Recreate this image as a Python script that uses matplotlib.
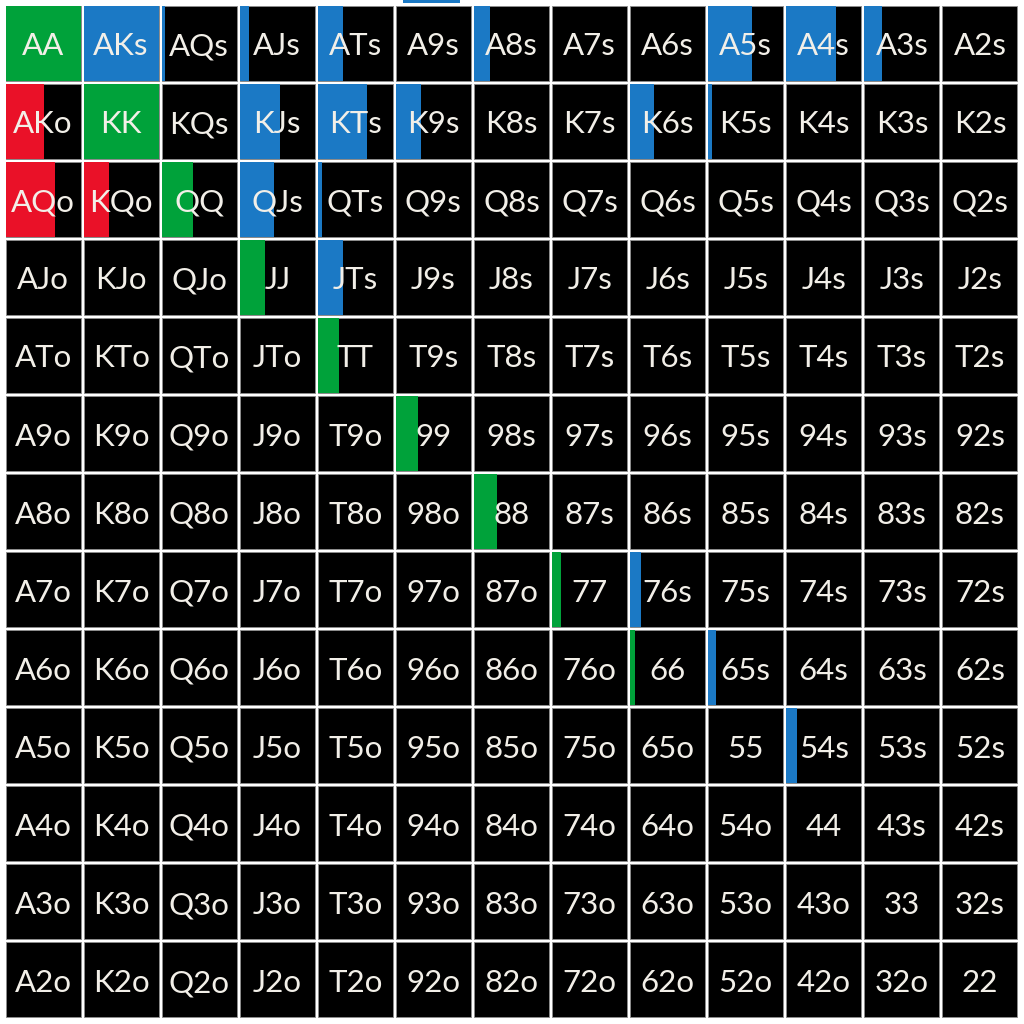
import matplotlib
matplotlib.use("Agg")
import matplotlib.pyplot as plt
from matplotlib.patches import Rectangle

ranks = ['A', 'K', 'Q', 'J', 'T', '9', '8', '7', '6', '5', '4', '3', '2']

green_hands = ['AA', 'KK', 'QQ', 'JJ', 'TT', '99', '88', '77', '66']
green_freq = [1.0, 1.0, 0.42, 0.34, 0.28, 0.29, 0.31, 0.12, 0.06]

blue_hands = ['AKs', 'AQs', 'AJs', 'ATs', 'A8s', 'A5s', 'A4s', 'A3s',
              'KJs', 'KTs', 'K9s', 'K6s', 'K5s', 'QJs', 'QTs', 'JTs',
              '76s', '65s', '54s']
blue_freq = [1.0, 0.05, 0.12, 0.34, 0.21, 0.59, 0.66, 0.24,
             0.54, 0.66, 0.34, 0.32, 0.05, 0.46, 0.05, 0.34,
             0.14, 0.11, 0.14]

red_hands = ['AKo', 'AQo', 'KQo']
red_freq = [0.51, 0.66, 0.34]

GREEN = '#00a23a'
BLUE = '#1b79c5'
RED = '#ea1128'

fills = {}
for h, f in zip(green_hands, green_freq):
    fills[h] = (GREEN, f)
for h, f in zip(blue_hands, blue_freq):
    fills[h] = (BLUE, f)
for h, f in zip(red_hands, red_freq):
    fills[h] = (RED, f)

fig = plt.figure(figsize=(10.24, 10.24), dpi=100)
fig.patch.set_facecolor('white')
ax = fig.add_axes([4 / 1024, 5 / 1024, 1015 / 1024, 1015 / 1024])
ax.set_xlim(0, 13)
ax.set_ylim(13, 0)
ax.axis('off')

g = 0.04
n = len(ranks)
for i in range(n):
    for j in range(n):
        if i == j:
            label = ranks[i] + ranks[j]
        elif j > i:
            label = ranks[i] + ranks[j] + 's'
        else:
            label = ranks[j] + ranks[i] + 'o'
        x0, y0 = j + g / 2, i + g / 2
        w = 1 - g
        ax.add_patch(Rectangle((x0, y0), w, w, facecolor='black',
                               edgecolor='#8c8c8c', linewidth=0.7))
        if label in fills:
            c, f = fills[label]
            ax.add_patch(Rectangle((x0, y0), w * f, w, facecolor=c,
                                   edgecolor='none'))
        ax.text(j + 0.5, i + 0.54, label, ha='center', va='center',
                color='#f2efe8', fontsize=22.5, family=['Lato', 'DejaVu Sans'])

fig.patches.append(Rectangle((403 / 1024, 1 - 2.5 / 1024), 57 / 1024, 2.5 / 1024,
                             transform=fig.transFigure, facecolor=BLUE,
                             edgecolor='none'))

fig.savefig('out.png', dpi=100, facecolor='white')
